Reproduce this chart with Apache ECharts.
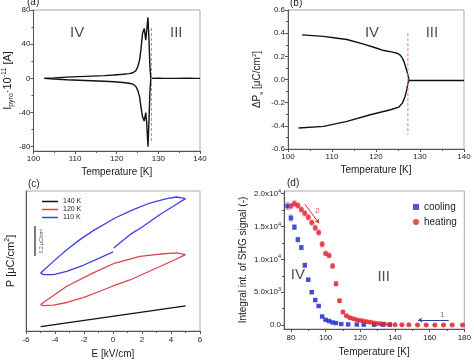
<!DOCTYPE html>
<html><head><meta charset="utf-8">
<script src="https://cdn.jsdelivr.net/npm/echarts@6/dist/echarts.min.js"></script>
<style>html,body{margin:0;padding:0;background:#fff}#c{width:474px;height:361px}</style>
</head><body><div id="c"></div>
<script>
// ---------- DATA ----------
// (a) pyroelectric current
const aT = [102.6,105,108,111,114,117,119.3,121.5,123,123.9,124.6,125.06,125.5,125.8,126.2,126.6,126.97,127.2,127.5,127.75,127.97,128.2];
const aUpper = [0,0.6,1.4,2.0,2.6,3.2,3.9,4.8,5.6,6.6,9,13.6,22,33,52.6,58.5,44.8,56.5,71.3,44.8,13.6,0];
const aLower = [0,-0.8,-1.6,-2.2,-2.8,-3.4,-4.0,-4.9,-5.7,-6.8,-9.5,-14,-22,-33,-45,-50,-40,-52,-80,-50,-15,0];
const aFlatT = [128.2,130,131.2,131.4,131.6,133,134.4,134.6,134.8,137,138.8,139,139.2,140];
const aFlat = [0,0.2,0,0.8,0,0,0,2,0,0.2,0,1.5,0,0];
const aTransition = 128.35;
// (b) spontaneous polarization
const bUpperT = [103.2,108.1,111.2,113.4,117.2,120,121.8,123.5,124.8,125.5,126.0,126.4,126.7,127.0,127.25,127.5];
const bUpper = [0.385,0.372,0.356,0.345,0.305,0.272,0.25,0.238,0.227,0.21,0.184,0.15,0.112,0.075,0.04,-0.003];
const bLowerT = [102.4,108.1,113.4,118.7,123.3,125.2,126.0,126.6,127.0,127.25,127.5];
const bLower = [-0.419,-0.405,-0.362,-0.304,-0.261,-0.238,-0.204,-0.146,-0.089,-0.032,-0.003];
const bFlatT = [127.5,140];
const bFlat = [-0.009,-0.009];
const bTransition = 127.25;
// (c) hysteresis loops (offset P, μC/cm²)
const cBlackE = [-4.99,5.01];
const cBlackP = [0.029,0.167];
const cRedE = [0.0,1.17,2.09,3.24,4.16,5.0,4.39,3.24,1.86,0.14,-1.36,-3.19,-4.99,-4.8,-4.11,-3.19,-2.05,-0.9,0.0];
const cRedP = [0.30,0.34,0.38,0.43,0.47,0.509,0.52,0.513,0.498,0.453,0.387,0.298,0.176,0.169,0.172,0.19,0.222,0.265,0.30];
const cBlueE = [0.05,1.17,2.09,3.24,4.16,5.0,4.39,3.70,2.55,1.40,0.14,-1.36,-2.28,-3.19,-4.11,-4.99,-4.8,-4.11,-3.19,-2.05,-0.9,0.0];
const cBlueP = [0.553,0.642,0.698,0.776,0.831,0.882,0.893,0.882,0.853,0.809,0.753,0.669,0.609,0.542,0.464,0.387,0.376,0.376,0.398,0.438,0.487,0.527];
const cNames = ['140 K','120 K','110 K'];
// (d) SHG intensity
const coolT = [78,80,82,84,86,88,90,92,94,96,98,100,102,104,106,109,113,118,122,128,133,137];
const coolV = [18100,16300,14900,13000,11800,9100,6900,5000,3800,2900,1300,800,600,400,300,150,100,80,60,50,50,50];
const coolErr = [500,450,350,350,300,300,200,200,150,150,120,100,80,60,50,40,30,30,30,30,30,30];
const heatT = [80,82,84,86,88,90,92,94,96,98,100,102,104,106,108,110,112,114,116,118,120,122,124,126,128,130,132,134,137,140,144,148,153,158,163,168,173,179];
const heatV = [18100,18500,18200,17600,17000,16400,15600,14800,14100,12300,10900,10600,9000,6300,3700,2000,1400,1100,970,810,710,610,510,410,300,250,200,150,100,60,40,30,20,20,20,20,20,20];
const heatErr = [400,400,400,400,400,400,400,400,400,400,350,350,350,300,250,200,150,120,100,80,80,60,60,50,50,40,40,30,30,30,30,30,30,30,30,30,30,30];
const dLabelValues = [0,5000,10000,15000,20000];
const dTickLabels = ['0.0','5.0x10{sup|3}','1.0x10{sup|4}','1.5x10{sup|4}','2.0x10{sup|4}'];
const dXTicks = [80,100,120,140,160,180];

// ---------- OPTION ----------
const FONT = "'Liberation Sans', Arial, sans-serif";
const TXT = '#222', AX = '#555', FRAME = '#aaa';
const zip = (a,b) => a.map((v,i)=>[v,b[i]]);
const zip3 = (a,b,c) => a.map((v,i)=>[v,b[i],c[i]]);
const supRich = {sup:{fontSize:5.5,verticalAlign:'top',lineHeight:11,fontFamily:FONT,color:TXT}};

function baseX(gi, extra){
  return Object.assign({
    gridIndex:gi, type:'value', position:'bottom', nameLocation:'middle', nameGap:18,
    nameTextStyle:{fontSize:10,color:TXT,fontFamily:FONT},
    axisLine:{show:true,onZero:false,lineStyle:{color:AX,width:1}},
    axisTick:{show:true,length:3,lineStyle:{color:AX}},
    minorTick:{show:true,splitNumber:2,length:2,lineStyle:{color:AX}},
    axisLabel:{fontSize:8,color:TXT,fontFamily:FONT,margin:5},
    splitLine:{show:false}
  }, extra);
}
function baseY(gi, extra){
  return Object.assign({
    gridIndex:gi, type:'value', position:'left', nameLocation:'middle', nameRotate:90,
    nameTextStyle:{fontSize:10,color:TXT,fontFamily:FONT},
    axisLine:{show:true,onZero:false,lineStyle:{color:AX,width:1}},
    axisTick:{show:true,length:3,lineStyle:{color:AX}},
    minorTick:{show:true,splitNumber:2,length:2,lineStyle:{color:AX}},
    axisLabel:{fontSize:8,color:TXT,fontFamily:FONT,margin:3},
    splitLine:{show:false}
  }, extra);
}
function minorOverlayX(gi,min,max,vals){
  return {gridIndex:gi,type:'value',position:'bottom',min,max,axisLine:{show:false,onZero:false},axisLabel:{show:false,customValues:vals},
    axisTick:{show:true,length:2,customValues:vals,lineStyle:{color:AX}},splitLine:{show:false}};
}
function minorOverlayY(gi,min,max,vals){
  return {gridIndex:gi,type:'value',position:'left',min,max,axisLine:{show:false,onZero:false},axisLabel:{show:false,customValues:vals},
    axisTick:{show:true,length:2,customValues:vals,lineStyle:{color:AX}},splitLine:{show:false}};
}
function lineS(xi, yi, data, color, width, extra){
  return Object.assign({type:'line',xAxisIndex:xi,yAxisIndex:yi,data,symbol:'none',showSymbol:false,
    lineStyle:{color,width},itemStyle:{color},silent:true,animation:false,z:3}, extra||{});
}
function textS(xi, yi, items, size, color, rotate){
  return {type:'scatter',xAxisIndex:xi,yAxisIndex:yi,symbolSize:0,silent:true,animation:false,
    data:items.map(d=>({value:[d[0],d[1]],label:{show:true,position:'inside',rotate:rotate||0,formatter:d[2],fontSize:size,color:color||TXT,fontFamily:FONT}}))};
}
function errRender(color){
  return function(params, api){
    const x=api.value(0), y=api.value(1), e=api.value(2);
    const p1=api.coord([x,y-e]), p2=api.coord([x,y+e]); const w=2;
    const st={stroke:color,lineWidth:1};
    return {type:'group',children:[
      {type:'line',shape:{x1:p1[0],y1:p1[1],x2:p2[0],y2:p2[1]},style:st},
      {type:'line',shape:{x1:p1[0]-w,y1:p1[1],x2:p1[0]+w,y2:p1[1]},style:st},
      {type:'line',shape:{x1:p2[0]-w,y1:p2[1],x2:p2[0]+w,y2:p2[1]},style:st}]};
  };
}

const gridStyle = {show:true,borderColor:FRAME,borderWidth:1,backgroundColor:'transparent',containLabel:false};
const DBLUE='#2030c8', DRED='#dd2030';

const option = {
  animation:false,
  textStyle:{fontFamily:FONT},
  grid:[
    Object.assign({left:26,top:10,width:174,height:141},gridStyle),
    Object.assign({left:288,top:10,width:176,height:139},gridStyle),
    Object.assign({left:26,top:191,width:174,height:140},gridStyle),
    Object.assign({left:284,top:191,width:182,height:138},gridStyle)
  ],
  xAxis:[
    baseX(0,{min:100,max:140,interval:10,name:'Temperature [K]',nameGap:16,
      axisLabel:{fontSize:8,color:TXT,fontFamily:FONT,margin:4}}),
    baseX(1,{min:100,max:140,interval:10,name:'Temperature [K]',nameGap:16,
      axisLabel:{fontSize:8,color:TXT,fontFamily:FONT,margin:4}}),
    baseX(2,{min:-6,max:6,interval:2,name:'E [kV/cm]'}),
    baseX(3,{min:76,max:180,name:'Temperature [K]',minorTick:{show:false},
      axisLabel:{fontSize:8,color:TXT,fontFamily:FONT,margin:5,customValues:dXTicks},
      axisTick:{show:true,length:3,customValues:dXTicks,lineStyle:{color:AX}}}),
    minorOverlayX(3,76,180,[90,110,130,150,170])
  ],
  yAxis:[
    baseY(0,{min:-85,max:80,minorTick:{show:false},nameGap:10,
      name:'I{sub|pyro}·10{sup|-11} [A]',
      nameTextStyle:{fontSize:11,color:TXT,fontFamily:FONT,lineHeight:14,
        rich:{sub:{fontSize:7,verticalAlign:'bottom',lineHeight:14,color:TXT},sup:{fontSize:7,verticalAlign:'top',lineHeight:14,color:TXT}}},
      axisLabel:{fontSize:8,color:TXT,fontFamily:FONT,margin:3,customValues:[-80,-40,0,40,80]},
      axisTick:{show:true,length:3,customValues:[-80,-40,0,40,80],lineStyle:{color:AX}}}),
    minorOverlayY(0,-85,80,[-60,-20,20,60]),
    baseY(1,{min:-0.6,max:0.6,interval:0.2,nameGap:24,
      name:'ΔP{sub|s} [μC/cm{sup|2}]',
      nameTextStyle:{fontSize:10,color:TXT,fontFamily:FONT,lineHeight:13,
        rich:{sub:{fontSize:6,verticalAlign:'bottom',lineHeight:13,color:TXT},sup:{fontSize:6,verticalAlign:'top',lineHeight:13,color:TXT}}},
      axisLabel:{fontSize:8,color:TXT,fontFamily:FONT,margin:3,formatter:v=>v.toFixed(1)}}),
    baseY(2,{min:0,max:0.933,nameGap:8,name:'P [μC/cm{sup|2}]',
      nameTextStyle:{fontSize:11,color:TXT,fontFamily:FONT,lineHeight:14,
        rich:{sup:{fontSize:7,verticalAlign:'top',lineHeight:14,color:TXT}}},
      axisTick:{show:false},minorTick:{show:false},axisLabel:{show:false}}),
    baseY(3,{min:-600,max:20400,minorTick:{show:false},nameGap:36,
      name:'Integral int. of SHG signal (-)',
      axisLabel:{fontSize:8,color:TXT,fontFamily:FONT,margin:3,customValues:dLabelValues,
        formatter:v=>dTickLabels[dLabelValues.indexOf(v)],rich:supRich},
      axisTick:{show:true,length:3,customValues:dLabelValues,lineStyle:{color:AX}}}),
    minorOverlayY(3,-600,20400,[2500,7500,12500,17500])
  ],
  legend:[
    {data:cNames,orient:'vertical',left:37,top:193,itemWidth:16,itemHeight:1.5,itemGap:1,
      textStyle:{fontSize:7,color:TXT,fontFamily:FONT,lineHeight:6},icon:'rect'},
    {data:[{name:'cooling',icon:'rect'},{name:'heating',icon:'circle'}],orient:'vertical',left:408,top:197,
      itemWidth:6,itemHeight:6,itemGap:5,textStyle:{fontSize:10,color:TXT,fontFamily:FONT}}
  ],
  graphic:[
    {type:'text',left:27,top:-3,style:{text:'(a)',fontSize:10,fill:TXT,fontFamily:FONT}},
    {type:'text',left:290,top:-2,style:{text:'(b)',fontSize:10,fill:TXT,fontFamily:FONT}},
    {type:'text',left:28,top:179,style:{text:'(c)',fontSize:10,fill:TXT,fontFamily:FONT}},
    {type:'text',left:287,top:178,style:{text:'(d)',fontSize:10,fill:TXT,fontFamily:FONT}}
  ],
  series:[
    // (a)
    lineS(0,0,zip(aT,aUpper),'#111',1.4),
    lineS(0,0,zip(aT,aLower),'#111',1.4),
    lineS(0,0,zip(aFlatT,aFlat),'#111',1.2),
    lineS(0,0,[[aTransition,59],[aTransition,-76]],'#e87878',1,{lineStyle:{color:'#e87878',width:1,type:[3,2]}}),
    textS(0,0,[[110.5,53,'IV'],[134.3,53,'III']],15),
    // (b)
    lineS(1,2,zip(bUpperT,bUpper),'#111',1.4),
    lineS(1,2,zip(bLowerT,bLower),'#111',1.4),
    lineS(1,2,zip(bFlatT,bFlat),'#111',1.4),
    lineS(1,2,[[bTransition,0.4],[bTransition,-0.477]],'#e87878',1,{lineStyle:{color:'#e87878',width:1,type:[3,2]}}),
    textS(1,2,[[119.1,0.404,'IV'],[132.7,0.404,'III']],15),
    // (c)
    lineS(2,3,zip(cBlackE,cBlackP),'#111',1.3,{name:cNames[0]}),
    lineS(2,3,zip(cRedE,cRedP),'#e04050',1.3,{name:cNames[1]}),
    lineS(2,3,zip(cBlueE,cBlueP),'#4040e0',1.3,{name:cNames[2]}),
    lineS(2,3,[[-5.38,0.5],[-5.38,0.7]],'#222',1.2),
    textS(2,3,[[-4.95,0.6,'0.2 μC/cm²']],5,TXT,90),
    // (d)
    {type:'custom',xAxisIndex:3,yAxisIndex:4,data:zip3(coolT,coolV,coolErr),renderItem:errRender('#9a9af0'),encode:{x:0,y:1},silent:true,z:2},
    {type:'custom',xAxisIndex:3,yAxisIndex:4,data:zip3(heatT,heatV,heatErr),renderItem:errRender('#f4a0a0'),encode:{x:0,y:1},silent:true,z:2},
    {type:'scatter',name:'cooling',xAxisIndex:3,yAxisIndex:4,data:zip(coolT,coolV),symbol:'rect',symbolSize:4.5,itemStyle:{color:DBLUE},z:4},
    {type:'scatter',name:'heating',xAxisIndex:3,yAxisIndex:4,data:zip(heatT,heatV),symbol:'circle',symbolSize:5,itemStyle:{color:DRED},z:4},
    textS(3,4,[[84,7600,'IV'],[133.5,7300,'III']],15),
    textS(3,4,[[95.3,17400,'2']],8,'#d03030'),
    textS(3,4,[[167.2,1550,'1']],8,'#3040a0'),
    {type:'line',xAxisIndex:3,yAxisIndex:4,data:[],silent:true,
      markLine:{silent:true,symbol:['none','arrow'],symbolSize:4,label:{show:false},animation:false,
        data:[
          [{coord:[88,18400],lineStyle:{color:'#d03030',width:1,type:'solid'}},{coord:[96.2,15500]}],
          [{coord:[171,760],lineStyle:{color:'#3040a0',width:1,type:'solid'}},{coord:[153.4,760]}]
        ]}}
  ]
};
const chart = echarts.init(document.getElementById('c'),null,{renderer:'canvas'});
chart.setOption(option);
</script></body></html>
